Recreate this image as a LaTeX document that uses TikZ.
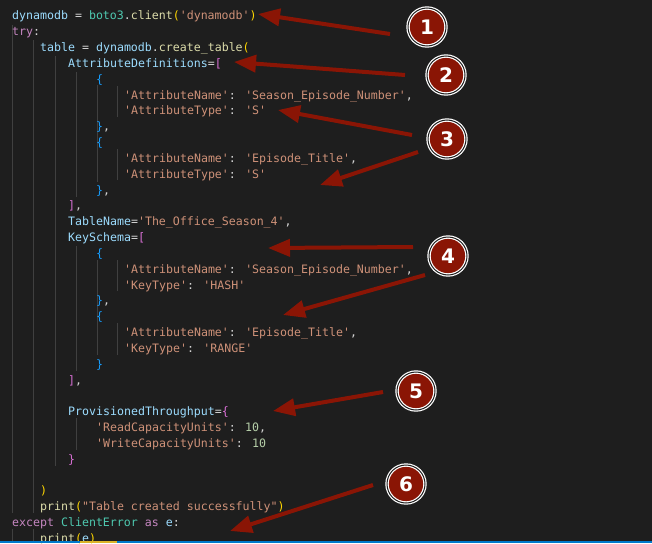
\documentclass[tikz,border=0pt]{standalone}
\usepackage{fontspec}
\newfontfamily\code{DejaVu Sans Mono}
\setmainfont{DejaVu Sans}
\usetikzlibrary{arrows.meta}
\definecolor{bg}{HTML}{1E1E1E}
\definecolor{vb}{HTML}{9CDCFE}
\definecolor{fn}{HTML}{DCDCAA}
\definecolor{cl}{HTML}{4EC9B0}
\definecolor{st}{HTML}{CE9178}
\definecolor{kw}{HTML}{C586C0}
\definecolor{nm}{HTML}{B5CEA8}
\definecolor{by}{HTML}{FFD700}
\definecolor{bm}{HTML}{DA70D6}
\definecolor{bb}{HTML}{179FFF}
\definecolor{tx}{HTML}{D4D4D4}
\definecolor{guide}{HTML}{404040}
\definecolor{ared}{HTML}{8A1505}
\definecolor{sbar}{HTML}{007ACC}
\definecolor{sbarY}{HTML}{DCB428}
\newcommand{\cL}[3]{\node[codeline] (l#1) at (#2,{16+(#1-1)*15.83+4}) {#3};}
\begin{document}
\begin{tikzpicture}[x=1pt,y=-1pt,
  codeline/.style={anchor=base west,inner sep=0,text=tx,font=\code\fontsize{11.6}{12}\selectfont},
  badge/.style={circle,fill=ared,draw=white,line width=1.2pt,double=bg,double distance=1pt,minimum size=38pt,inner sep=0,text=white,font=\fontsize{20}{22}\selectfont\bfseries},
  ann/.style={draw=ared,line width=4pt,-{Triangle[length=22pt,width=17pt]}}]
\fill[bg] (0,0) rectangle (652,543);
\useasboundingbox (0,0) rectangle (652,543);
% indent guides
\begin{scope}[draw=guide,line width=0.8pt]
\draw (12,25) -- (12,513); \draw (33,40) -- (33,513);
\draw (55,56) -- (55,466);
\draw (76,72) -- (76,197); \draw (76,246) -- (76,371); \draw (76,418) -- (76,450);
\draw (97,85) -- (97,182); \draw (97,260) -- (97,355);
\draw (117,86) -- (117,117); \draw (117,149) -- (117,180);
\draw (117,260) -- (117,291); \draw (117,323) -- (117,355);
\draw (12,529) -- (12,543); \draw (33,529) -- (33,543);
\end{scope}
\cL{1}{12}{\color{vb}dynamodb \color{tx}= \color{cl}boto3\color{tx}.\color{fn}client\color{by}(\color{st}'dynamodb'\color{by})}
\cL{2}{12}{\color{kw}try\color{tx}:}
\cL{3}{40}{\color{vb}table \color{tx}= \color{vb}dynamodb\color{tx}.\color{fn}create\_table\color{by}(}
\cL{4}{68}{\color{vb}AttributeDefinitions\color{tx}=\color{bm}[}
\cL{5}{96}{\color{bb}\{}
\cL{6}{124}{\color{st}'AttributeName'\color{tx}: \color{st}'Season\_Episode\_Number'\color{tx},}
\cL{7}{124}{\color{st}'AttributeType'\color{tx}: \color{st}'S'}
\cL{8}{96}{\color{bb}\}\color{tx},}
\cL{9}{96}{\color{bb}\{}
\cL{10}{124}{\color{st}'AttributeName'\color{tx}: \color{st}'Episode\_Title'\color{tx},}
\cL{11}{124}{\color{st}'AttributeType'\color{tx}: \color{st}'S'}
\cL{12}{96}{\color{bb}\}\color{tx},}
\cL{13}{68}{\color{bm}]\color{tx},}
\cL{14}{68}{\color{vb}TableName\color{tx}=\color{st}'The\_Office\_Season\_4'\color{tx},}
\cL{15}{68}{\color{vb}KeySchema\color{tx}=\color{bm}[}
\cL{16}{96}{\color{bb}\{}
\cL{17}{124}{\color{st}'AttributeName'\color{tx}: \color{st}'Season\_Episode\_Number'\color{tx},}
\cL{18}{124}{\color{st}'KeyType'\color{tx}: \color{st}'HASH'}
\cL{19}{96}{\color{bb}\}\color{tx},}
\cL{20}{96}{\color{bb}\{}
\cL{21}{124}{\color{st}'AttributeName'\color{tx}: \color{st}'Episode\_Title'\color{tx},}
\cL{22}{124}{\color{st}'KeyType'\color{tx}: \color{st}'RANGE'}
\cL{23}{96}{\color{bb}\}}
\cL{24}{68}{\color{bm}]\color{tx},}
\cL{26}{68}{\color{vb}ProvisionedThroughput\color{tx}=\color{bm}\{}
\cL{27}{96}{\color{st}'ReadCapacityUnits'\color{tx}: \color{nm}10\color{tx},}
\cL{28}{96}{\color{st}'WriteCapacityUnits'\color{tx}: \color{nm}10}
\cL{29}{68}{\color{bm}\}}
\cL{31}{40}{\color{by})}
\cL{32}{40}{\color{fn}print\color{by}(\color{st}"Table created successfully"\color{by})}
\cL{33}{12}{\color{kw}except \color{cl}ClientError \color{kw}as \color{vb}e\color{tx}:}
\cL{34}{40}{\color{fn}print\color{by}(\color{vb}e\color{by})}
% status bar
\fill[sbar] (0,540.5) rectangle (652,543);
\fill[sbarY] (80,540.5) rectangle (117,543);
% badges
\node[badge] (b1) at (427,27) {1};
\node[badge] (b2) at (446,75) {2};
\node[badge] (b3) at (447,139) {3};
\node[badge] (b4) at (448,256) {4};
\node[badge] (b5) at (416,391) {5};
\node[badge] (b6) at (406,484) {6};
% arrow endpoints
\coordinate (t1) at (390,34); \coordinate (h1) at (258,14);
\coordinate (t2) at (405,75); \coordinate (h2) at (234,62);
\coordinate (t3a) at (412,135); \coordinate (h3a) at (278,110);
\coordinate (t3b) at (418,152); \coordinate (h3b) at (320,185);
\coordinate (t4a) at (413,247); \coordinate (h4a) at (268,248);
\coordinate (t4b) at (425,275); \coordinate (h4b) at (283,315);
\coordinate (t5) at (383,392); \coordinate (h5) at (273,411);
\coordinate (t6) at (373,485); \coordinate (h6) at (230,531);
\draw[ann] (t1) -- (h1);
\draw[ann] (t2) -- (h2);
\draw[ann] (t3a) -- (h3a);
\draw[ann] (t3b) -- (h3b);
\draw[ann] (t4a) -- (h4a);
\draw[ann] (t4b) -- (h4b);
\draw[ann] (t5) -- (h5);
\draw[ann] (t6) -- (h6);
\end{tikzpicture}
\end{document}
